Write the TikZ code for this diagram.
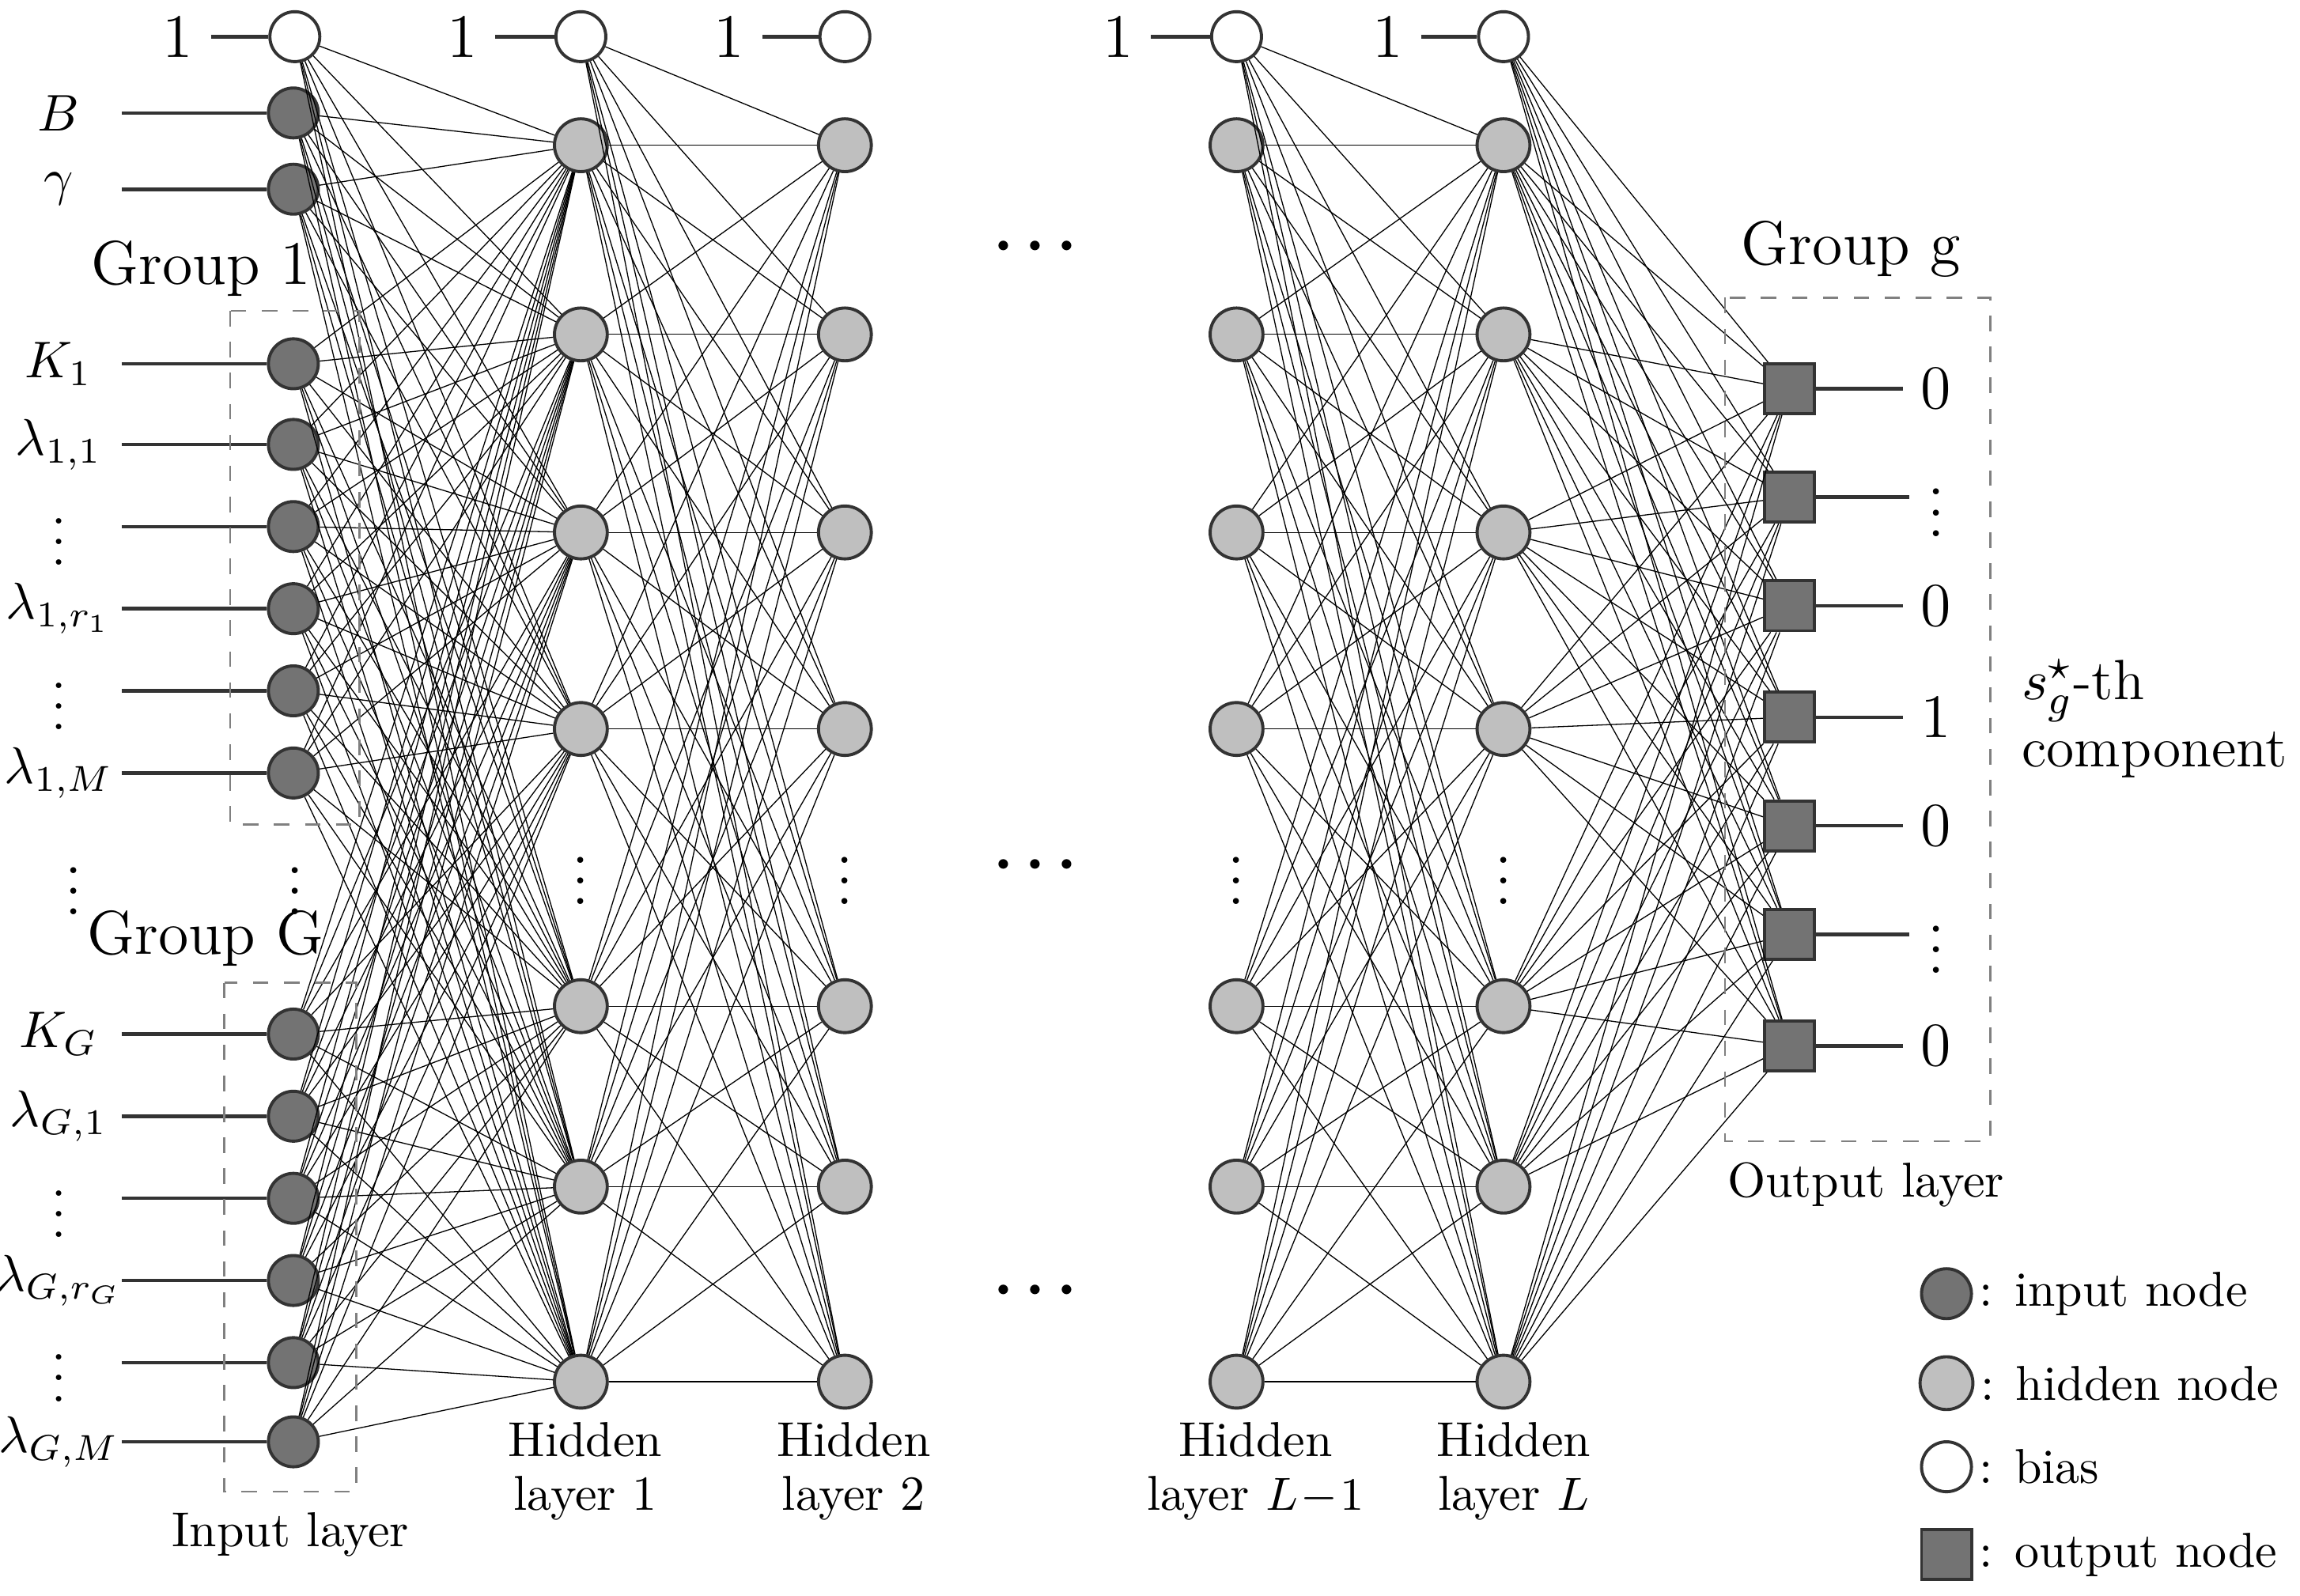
\documentclass[tikz,border=0pt]{standalone}
\usepackage{amsmath}
\begin{document}
\begin{tikzpicture}[x=0.01cm,y=-0.01cm,
 inp/.style={circle,draw=black!80,fill=black!55,minimum size=0.34cm,inner sep=0pt,line width=0.6pt},
 hid/.style={circle,draw=black!80,fill=black!25,minimum size=0.36cm,inner sep=0pt,line width=0.6pt},
 bias/.style={circle,draw=black!80,fill=white,minimum size=0.34cm,inner sep=0pt,line width=0.6pt},
 outn/.style={rectangle,draw=black!80,fill=black!55,minimum size=0.34cm,inner sep=0pt,line width=0.6pt},
 conn/.style={line width=0.2pt},
 feed/.style={line width=0.7pt,black!80},
 box/.style={draw=black!50,dashed,line width=0.4pt},
 lab/.style={font=\fontsize{10}{12}\selectfont},
 big/.style={font=\fontsize{12}{14}\selectfont},
 capt/.style={font=\fontsize{9.5}{10.5}\selectfont,align=center}]
\useasboundingbox (0,0) rectangle (1568,1088);
% input layer
\node[bias] (i0) at (201,25) {};
\foreach \n/\y in {1/77,2/129,3/248,4/303,5/359,6/415,7/471,8/527,9/705,10/761,11/817,12/873,13/929,14/983}
  \node[inp] (i\n) at (200,\y) {};
% hidden columns
\foreach \c/\x in {a/396,b/576,c/843,d/1025}{
  \node[bias] (\c0) at (\x,25) {};
  \foreach \n/\y in {1/99,2/228,3/363,4/497,5/686,6/809,7/942}
    \node[hid] (\c\n) at (\x,\y) {};
  \node[font=\large] (\c dots) at (\x,590) {$\boldsymbol{\vdots}$};
}
% outputs
\foreach \n/\y in {1/265,2/339,3/413,4/489,5/563,6/637,7/713}
  \node[outn] (o\n) at (1220,\y) {};
% connections
\foreach \s in {0,...,14}{\foreach \t in {1,...,7}{\draw[conn] (i\s) -- (a\t);}}
\foreach \s in {0,...,7}{\foreach \t in {1,...,7}{
  \draw[conn] (a\s) -- (b\t);
  \draw[conn] (c\s) -- (d\t);
  \draw[conn] (d\s) -- (o\t);}}
% bias labels
\foreach \c/\x in {i/121,a/315,b/497,c/762,d/946}{
  \node[big] (one\c) at (\x,25) {1};
  \draw[feed] (one\c.east) -- (\c0);}
% input labels
\foreach \n/\t in {1/B,2/\gamma,3/K_1,4/\lambda_{1,1},5/\vdots,6/\lambda_{1,r_1},7/\vdots,8/\lambda_{1,M},9/K_G,10/\lambda_{G,1},11/\vdots,12/\lambda_{G,r_G},13/\vdots,14/\lambda_{G,M}}{
  \node[lab] (l\n) at (40,0|-i\n) {$\t$};
  \coordinate (s\n) at (83,0|-i\n);
  \draw[feed] (s\n) -- (i\n);}
\node[font=\large] (vd1) at (50,597) {$\boldsymbol{\vdots}$};
\node[font=\large] (vd2) at (201,597) {$\boldsymbol{\vdots}$};
% output labels
\foreach \n/\t in {1/0,2/\vdots,3/0,4/1,5/0,6/\vdots,7/0}{
  \node[big] (r\n) at (1320,0|-o\n) {$\t$};
  \draw[feed] (o\n) -- (r\n.west);}
% boxes
\draw[box] (157,212) rectangle (245,562);
\draw[box] (153,670) rectangle (243,1017);
\draw[box] (1176,203) rectangle (1357,778);
\node[big] (g1) at (137,183) {Group 1};
\node[big] (gG) at (140,640) {Group G};
\node[big] (gg) at (1262,170) {Group g};
\node[capt] (ol) at (1272,808) {Output layer};
\node[capt] (il) at (198,1046) {Input layer};
\node[capt] (h1) at (399,1003) {Hidden\\layer 1};
\node[capt] (h2) at (582,1003) {Hidden\\layer 2};
\node[capt] (h3) at (856,1003) {Hidden\\layer $L\!-\!1$};
\node[capt] (h4) at (1032,1003) {Hidden\\layer $L$};
\foreach \y in {168,590,880} \node[font=\large] at (710,\y) {$\boldsymbol{\cdots}$};
\node[font=\fontsize{11}{13}\selectfont,align=left,anchor=west] (sc) at (1366,490) {$s_g^{\star}$-th\\component};
% legend
\node[inp] (k1) at (1327,882) {}; \node[capt,anchor=west,inner sep=1pt] at (k1.east) {: input node};
\node[hid] (k2) at (1327,943) {}; \node[capt,anchor=west,inner sep=1pt] at (k2.east) {: hidden node};
\node[bias] (k3) at (1327,1000) {}; \node[capt,anchor=west,inner sep=1pt] at (k3.east) {: bias};
\node[outn] (k4) at (1327,1060) {}; \node[capt,anchor=west,inner sep=1pt] at (k4.east) {: output node};
\end{tikzpicture}
\end{document}
